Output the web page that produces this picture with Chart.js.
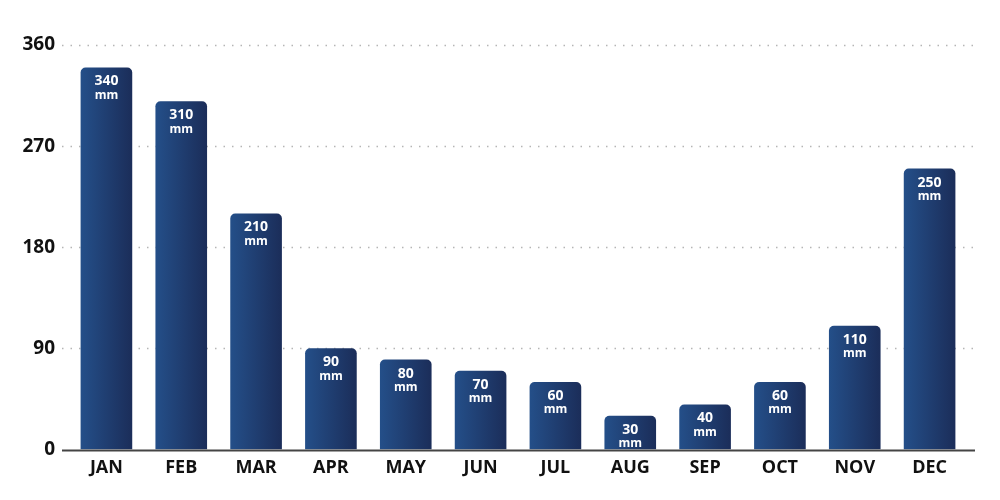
<!DOCTYPE html>
<html>
<head>
<meta charset="utf-8">
<script src="https://cdn.jsdelivr.net/npm/chart.js@4"></script>
<style>
  html, body { margin: 0; padding: 0; background: #fff; }
  #wrap { width: 1000px; height: 500px; }
</style>
</head>
<body>
<div id="wrap"><canvas id="rain-chart"></canvas></div>
<script>
const months = ['JAN', 'FEB', 'MAR', 'APR', 'MAY', 'JUN', 'JUL', 'AUG', 'SEP', 'OCT', 'NOV', 'DEC']
const rainfall = [340, 310, 210, 90, 80, 70, 60, 30, 40, 60, 110, 250]
const yTicks = [0, 90, 180, 270, 360]
const unit = 'mm'

// dotted grid + baseline, a bit wider than the plot area
const gridPlugin = {
    id: 'dotGrid',
    beforeDatasetsDraw(chart) {
        const ctx = chart.ctx
        const y = chart.scales.y
        const left = chart.chartArea.left - 7
        const right = chart.chartArea.right + 8
        ctx.save()
        ctx.strokeStyle = '#b5b5b5'
        ctx.lineWidth = 1.5
        ctx.setLineDash([1.5, 7])
        yTicks.forEach(t => {
            if (t === 0) return
            const py = Math.round(y.getPixelForValue(t)) + 0.5
            ctx.beginPath()
            ctx.moveTo(left, py)
            ctx.lineTo(right, py)
            ctx.stroke()
        })
        ctx.restore()
    },
    afterDatasetsDraw(chart) {
        const ctx = chart.ctx
        const y = chart.scales.y
        const py = y.getPixelForValue(0)
        ctx.save()
        ctx.strokeStyle = '#444'
        ctx.lineWidth = 2
        ctx.beginPath()
        ctx.moveTo(chart.chartArea.left - 7, py + 1)
        ctx.lineTo(chart.chartArea.right + 8, py + 1)
        ctx.stroke()
        ctx.restore()
    }
}

// value + unit inside the top of each bar
const labelPlugin = {
    id: 'barLabels',
    afterDatasetsDraw(chart) {
        const ctx = chart.ctx
        const meta = chart.getDatasetMeta(0)
        ctx.save()
        ctx.fillStyle = '#fff'
        ctx.textAlign = 'center'
        ctx.textBaseline = 'middle'
        meta.data.forEach((bar, i) => {
            ctx.font = 'bold 14px "Open Sans"'
            ctx.fillText(rainfall[i], bar.x, bar.y + 14)
            ctx.font = 'bold 12px "Open Sans"'
            ctx.fillText(unit, bar.x, bar.y + 28)
        })
        ctx.restore()
    }
}

const barGradient = (context) => {
    const chart = context.chart
    const xs = chart.scales && chart.scales.x
    if (!chart.chartArea || !xs) return '#213f73'
    const cx = xs.getPixelForValue(context.dataIndex)
    const w = 52
    if (!isFinite(cx)) return '#213f73'
    const g = chart.ctx.createLinearGradient(cx - w / 2, 0, cx + w / 2, 0)
    g.addColorStop(0, '#244f89')
    g.addColorStop(1, '#1b2d59')
    return g
}

const myChart = document.getElementById('rain-chart')

new Chart(myChart, {
    type: 'bar',
    data: {
        labels: months,
        datasets: [
            {
                label: 'Rainfall',
                data: rainfall,
                backgroundColor: barGradient,
                borderRadius: { topLeft: 5, topRight: 5 },
                borderSkipped: 'bottom',
                barPercentage: 0.69,
                categoryPercentage: 1
            }
        ]
    },
    options: {
        responsive: true,
        maintainAspectRatio: false,
        animation: false,
        layout: { padding: { top: 45, right: 33, bottom: 21, left: 0 } },
        plugins: {
            legend: { display: false },
            tooltip: { enabled: false }
        },
        scales: {
            x: {
                grid: { display: false },
                border: { display: false },
                ticks: {
                    color: '#111',
                    font: { family: 'Open Sans', weight: 'bold', size: 18 },
                    padding: 0
                }
            },
            y: {
                min: 0,
                max: 360,
                afterBuildTicks: (axis) => { axis.ticks = yTicks.map(v => ({ value: v })) },
                afterFit: (axis) => { axis.width = 69 },
                grid: { display: false },
                border: { display: false },
                ticks: {
                    color: '#111',
                    font: { family: 'Open Sans', weight: 'bold', size: 19 },
                    padding: 6
                }
            }
        }
    },
    plugins: [gridPlugin, labelPlugin]
})
</script>
</body>
</html>
